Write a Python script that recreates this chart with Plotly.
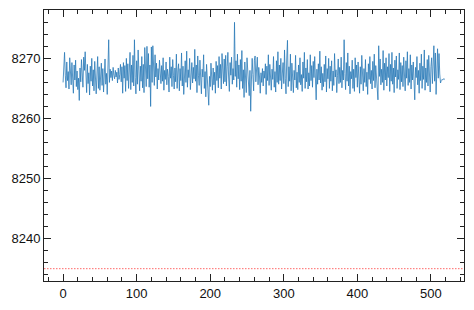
import plotly.graph_objects as go

values = [
    8266.0, 8268.5, 8271.0, 8267.2, 8265.1, 8269.4, 8266.3, 8267.8, 8264.9, 8270.1, 8268.2, 8265.6, 8269.3, 8267.0, 8264.2, 8268.9, 8266.4, 8269.7, 8265.3, 8267.9,
    8264.8, 8266.7, 8263.0, 8268.4, 8266.1, 8269.8, 8267.3, 8265.2, 8270.2, 8268.0, 8271.1, 8266.5, 8264.3, 8269.0, 8265.8, 8267.6, 8263.9, 8268.7, 8266.2, 8270.0,
    8265.4, 8268.1, 8264.6, 8269.5, 8266.9, 8264.1, 8267.4, 8270.3, 8265.0, 8268.6, 8264.7, 8267.1, 8269.2, 8265.5, 8268.3, 8264.4, 8266.8, 8269.9, 8265.7, 8267.5,
    8264.0, 8270.4, 8273.1, 8266.0, 8268.2, 8266.8, 8267.9, 8266.3, 8268.5, 8267.2, 8266.6, 8268.0, 8266.9, 8267.7, 8265.9, 8268.4, 8266.5, 8267.3, 8269.0, 8266.1,
    8268.6, 8264.2, 8269.3, 8266.7, 8268.8, 8264.5, 8270.0, 8266.3, 8269.1, 8265.0, 8267.6, 8271.0, 8264.8, 8268.9, 8266.0, 8270.5, 8265.4, 8273.1, 8266.8, 8264.1,
    8269.6, 8265.7, 8271.4, 8267.0, 8264.6, 8268.7, 8266.2, 8270.3, 8265.1, 8269.0, 8264.3, 8271.8, 8267.4, 8265.3, 8272.0, 8266.6, 8270.8, 8265.2, 8268.9, 8262.0,
    8271.9, 8266.0, 8272.1, 8267.7, 8265.5, 8270.6, 8266.9, 8269.2, 8264.9, 8268.3, 8266.4, 8269.7, 8267.1, 8265.8, 8268.8, 8266.2, 8270.1, 8264.7, 8268.0, 8266.5,
    8269.4, 8265.6, 8268.2, 8267.0, 8264.4, 8270.2, 8266.7, 8268.6, 8265.3, 8269.8, 8267.2, 8264.9, 8268.4, 8266.1, 8270.7, 8265.0, 8267.9, 8269.1, 8264.6, 8268.3,
    8266.3, 8270.9, 8265.4, 8268.7, 8264.0, 8267.5, 8269.6, 8266.0, 8271.2, 8265.2, 8268.1, 8266.8, 8270.0, 8264.8, 8267.3, 8269.3, 8265.9, 8268.5, 8266.6, 8271.5,
    8266.2, 8268.9, 8264.3, 8270.4, 8267.1, 8265.5, 8269.7, 8266.4, 8264.1, 8268.2, 8266.9, 8270.6, 8265.0, 8267.8, 8263.6, 8269.0, 8266.5, 8264.4, 8262.2, 8267.0,
    8265.3, 8269.2, 8266.0, 8264.7, 8268.4, 8265.6, 8267.7, 8264.2, 8269.5, 8266.3, 8268.8, 8265.1, 8270.3, 8266.7, 8269.0, 8264.9, 8270.8, 8267.4, 8265.8, 8269.9,
    8266.1, 8270.5, 8265.4, 8268.6, 8271.0, 8266.9, 8264.5, 8269.3, 8267.2, 8270.2, 8265.7, 8268.3, 8266.4, 8276.0, 8267.0, 8269.6, 8265.2, 8270.7, 8266.6, 8268.9,
    8264.8, 8269.8, 8266.2, 8271.3, 8265.0, 8268.1, 8263.5, 8269.4, 8266.8, 8264.3, 8270.1, 8267.5, 8265.9, 8263.8, 8268.0, 8261.2, 8266.4, 8270.0, 8267.3, 8264.6,
    8269.7, 8270.4, 8266.1, 8268.8, 8270.2, 8265.6, 8268.5, 8266.9, 8264.2, 8267.6, 8266.0, 8268.3, 8265.4, 8267.9, 8266.7, 8269.1, 8264.0, 8268.7, 8266.3, 8270.6,
    8265.5, 8269.0, 8267.1, 8264.7, 8268.2, 8266.5, 8270.3, 8265.2, 8267.8, 8264.4, 8269.6, 8266.0, 8271.1, 8265.7, 8268.9, 8266.3, 8270.0, 8264.9, 8267.4, 8269.3,
    8265.8, 8271.4, 8266.6, 8264.1, 8269.9, 8273.0, 8265.3, 8268.6, 8266.2, 8270.7, 8264.6, 8269.2, 8266.9, 8264.3, 8268.0, 8266.4, 8270.5, 8265.1, 8267.7, 8264.8,
    8268.9, 8266.0, 8270.1, 8265.6, 8267.3, 8264.5, 8269.4, 8266.7, 8271.0, 8265.0, 8268.4, 8266.1, 8269.8, 8264.9, 8267.6, 8265.4, 8270.6, 8266.3, 8268.8, 8265.2,
    8269.5, 8266.8, 8270.3, 8267.0, 8263.1, 8268.2, 8265.7, 8269.1, 8266.4, 8271.2, 8265.9, 8268.6, 8264.7, 8267.5, 8265.3, 8269.0, 8266.1, 8270.4, 8264.4, 8268.3,
    8266.6, 8270.0, 8265.0, 8268.7, 8266.2, 8269.6, 8264.6, 8267.9, 8265.5, 8270.8, 8266.9, 8268.1, 8264.3, 8267.2, 8269.9, 8265.8, 8268.5, 8266.0, 8270.2, 8265.1,
    8268.0, 8266.4, 8273.1, 8267.5, 8264.8, 8269.3, 8266.2, 8270.9, 8265.4, 8268.7, 8264.1, 8267.8, 8266.6, 8269.7, 8265.0, 8268.2, 8264.5, 8270.1, 8266.8, 8268.9,
    8265.2, 8269.4, 8266.1, 8264.2, 8268.6, 8265.7, 8270.5, 8266.9, 8264.6, 8268.3, 8266.0, 8269.8, 8265.3, 8267.7, 8264.0, 8269.1, 8266.5, 8270.3, 8265.8, 8268.0,
    8264.9, 8269.5, 8266.3, 8270.7, 8265.1, 8268.8, 8266.6, 8264.4, 8263.1, 8272.1, 8267.0, 8269.9, 8265.6, 8268.2, 8266.0, 8271.3, 8264.7, 8269.2, 8266.4, 8270.1,
    8265.4, 8268.6, 8266.8, 8270.8, 8264.5, 8269.0, 8266.2, 8271.0, 8265.7, 8268.4, 8264.3, 8269.7, 8266.9, 8270.4, 8265.0, 8268.1, 8266.5, 8270.9, 8264.8, 8269.3,
    8266.1, 8268.8, 8265.3, 8270.2, 8267.2, 8264.6, 8269.6, 8266.7, 8271.1, 8265.5, 8268.3, 8266.0, 8270.6, 8264.9, 8268.9, 8266.4, 8269.4, 8265.2, 8263.1, 8268.5,
    8266.8, 8270.3, 8265.6, 8268.0, 8264.2, 8269.2, 8266.3, 8270.7, 8265.0, 8268.7, 8266.5, 8271.4, 8264.7, 8268.4, 8266.0, 8269.8, 8265.4, 8270.5, 8266.9, 8264.4,
    8268.6, 8270.1, 8265.8, 8268.3, 8272.1, 8266.2, 8270.9, 8264.0, 8269.5, 8271.6, 8266.7, 8270.8, 8267.4, 8265.9, 8266.3, 8266.5, 8266.4, 8266.6, 8266.5, 8266.6,
]
index = list(range(len(values)))
threshold = 8235

x_ticks = [0, 100, 200, 300, 400, 500]
y_ticks = [8240, 8250, 8260, 8270]

# matplotlib-like 5% margins
xmin, xmax = min(index), max(index)
xpad = (xmax - xmin) * 0.05
ymin, ymax = min(min(values), threshold), max(values)
ypad = (ymax - ymin) * 0.05

fig = go.Figure()
fig.add_trace(go.Scatter(x=index, y=values, mode="lines",
                         line=dict(color="#2a7ab8", width=0.8), showlegend=False))
fig.add_hline(y=threshold, line=dict(color="rgba(255,40,40,0.7)", width=1, dash="1.5px,1.5px"))

axis_common = dict(showgrid=False, zeroline=False, showline=True, linecolor="#222",
                   linewidth=1, mirror="allticks", ticks="inside", ticklen=7,
                   tickwidth=1, tickcolor="#222",
                   tickfont=dict(family="Liberation Sans, Arial, sans-serif", size=13, color="#111"))

fig.update_xaxes(range=[xmin - xpad, xmax + xpad], tickvals=x_ticks,
                 minor=dict(dtick=20, tick0=0, ticks="inside", ticklen=4, tickcolor="#222"),
                 **axis_common)
fig.update_yaxes(range=[ymin - ypad, ymax + ypad], tickvals=y_ticks,
                 minor=dict(dtick=2, tick0=0, ticks="inside", ticklen=4, tickcolor="#222"),
                 **axis_common)

fig.update_layout(width=474, height=310, margin=dict(l=44, r=9, t=9, b=27),
                  plot_bgcolor="white", paper_bgcolor="white")
fig.write_html("out.html")
